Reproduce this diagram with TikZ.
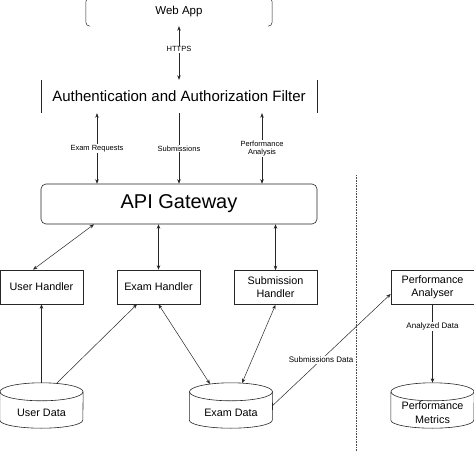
\documentclass[tikz,border=0pt]{standalone}
\usepackage{fontspec}
\setmainfont{Liberation Sans}
\usetikzlibrary{arrows.meta}

% outline of a data store round a plain node
\newcommand\drawdb[1]{%
  \draw[dbline] ([yshift=-9pt]#1.north) ellipse [x radius=41.5pt,y radius=9pt];
  \draw[dbline] ([yshift=-9pt]#1.north west) -- ([yshift=8pt]#1.south west)
    arc[start angle=180,end angle=360,x radius=41.5pt,y radius=8pt] -- ([yshift=-9pt]#1.north east);
}

\begin{document}
\begin{tikzpicture}[x=1pt,y=1pt,>={Stealth[length=4.5pt,width=3.5pt]},
    box/.style={draw=black!85,line width=0.6pt,minimum width=83pt,minimum height=34pt,
      align=center,inner sep=1pt,font=\fontsize{10.8}{13}\selectfont},
    db/.style={minimum width=83pt,minimum height=45pt,inner sep=0pt},
    dbline/.style={draw=black!85,line width=0.6pt},
    dbtext/.style={yshift=-7pt,align=center,font=\fontsize{10.8}{14}\selectfont},
    lbl/.style={fill=white,inner sep=1pt,align=center,font=\fontsize{7.5}{8.5}\selectfont},
    link/.style={draw=black!85,line width=0.5pt},
    both/.style={<->},
    one/.style={->}]
  \useasboundingbox (0,0) rectangle (474,451);

  % top: web app and filter
  \node[minimum width=186pt,minimum height=28pt,font=\fontsize{11.5}{13}\selectfont] (webapp) at (179,439) {Web App};
  \draw[link,rounded corners=4pt] ([xshift=4pt]webapp.north west) -- (webapp.north west)
    -- (webapp.south west) -- ([xshift=4pt]webapp.south west);
  \draw[link,rounded corners=4pt] ([xshift=-4pt]webapp.north east) -- (webapp.north east)
    -- (webapp.south east) -- ([xshift=-4pt]webapp.south east);

  \node[minimum width=276pt,minimum height=33pt,font=\fontsize{15}{17}\selectfont] (filter) at (179,354.5)
    {Authentication and Authorization Filter};
  \draw[link] (filter.north west) -- (filter.south west) (filter.north east) -- (filter.south east);
  \draw[link,<->] (webapp.south) -- node[lbl,pos=0.43]{HTTPS} (filter.north);

  \node[draw=black!85,line width=0.6pt,rounded corners=5pt,minimum width=276pt,minimum height=40pt,
    font=\fontsize{20}{24}\selectfont] (gateway) at (179,247) {API Gateway};

  \foreach \dx/\tip/\txt in {-82/both/Exam Requests,0/one/Submissions,83/both/{Performance\\Analysis}}
    \draw[link,\tip] ([xshift=\dx pt]filter.south) -- node[lbl]{\txt} ([xshift=\dx pt]gateway.north);

  % handlers
  \node[box] (userh) at (41.5,164) {User Handler};
  \node[box] (examh) at (158.5,164) {Exam Handler};
  \node[box] (subh) at (275.5,163.5) {Submission\\Handler};
  \node[box] (perfa) at (432.5,164) {Performance\\Analyser};

  \draw[link,<->] ([xshift=-85pt]gateway.south) -- ([xshift=-8.5pt]userh.north);
  \draw[link,<->] ([xshift=-20.5pt]gateway.south) -- (examh.north);
  \draw[link,<->] ([xshift=96.5pt]gateway.south) -- (subh.north);

  % data stores
  \node[db,label={[dbtext]center:User Data}] (userdb) at (41.5,45.5) {};
  \node[db,label={[dbtext]center:Exam Data}] (examdb) at (231,45.5) {};
  \node[db,label={[dbtext]center:Performance\\Metrics}] (perfdb) at (432.5,45.5) {};
  \foreach \n in {userdb,examdb,perfdb} {\drawdb{\n}}

  \draw[link,->] (userdb.north) -- (userh.south);
  \draw[link,->] ([xshift=15pt,yshift=-0.6pt]userdb.north) -- ([xshift=-21.5pt]examh.south);
  \draw[link,<->] (examh.south) -- ([xshift=-21pt,yshift=-1.2pt]examdb.north);
  \draw[link,<->] (subh.south) -- ([xshift=11pt,yshift=-0.3pt]examdb.north);
  \draw[link,->] (examdb.east) -- node[lbl,pos=0.41,font=\fontsize{8}{9}\selectfont]{Submissions Data}
    ([yshift=-7pt]perfa.west);
  \draw[link,->] (perfa.south) -- node[lbl,pos=0.28,font=\fontsize{8}{9}\selectfont]{Analyzed Data} (perfdb.north);

  \draw[black!70,densely dotted,line width=0.6pt] (356,276) -- (356,0);
\end{tikzpicture}
\end{document}
